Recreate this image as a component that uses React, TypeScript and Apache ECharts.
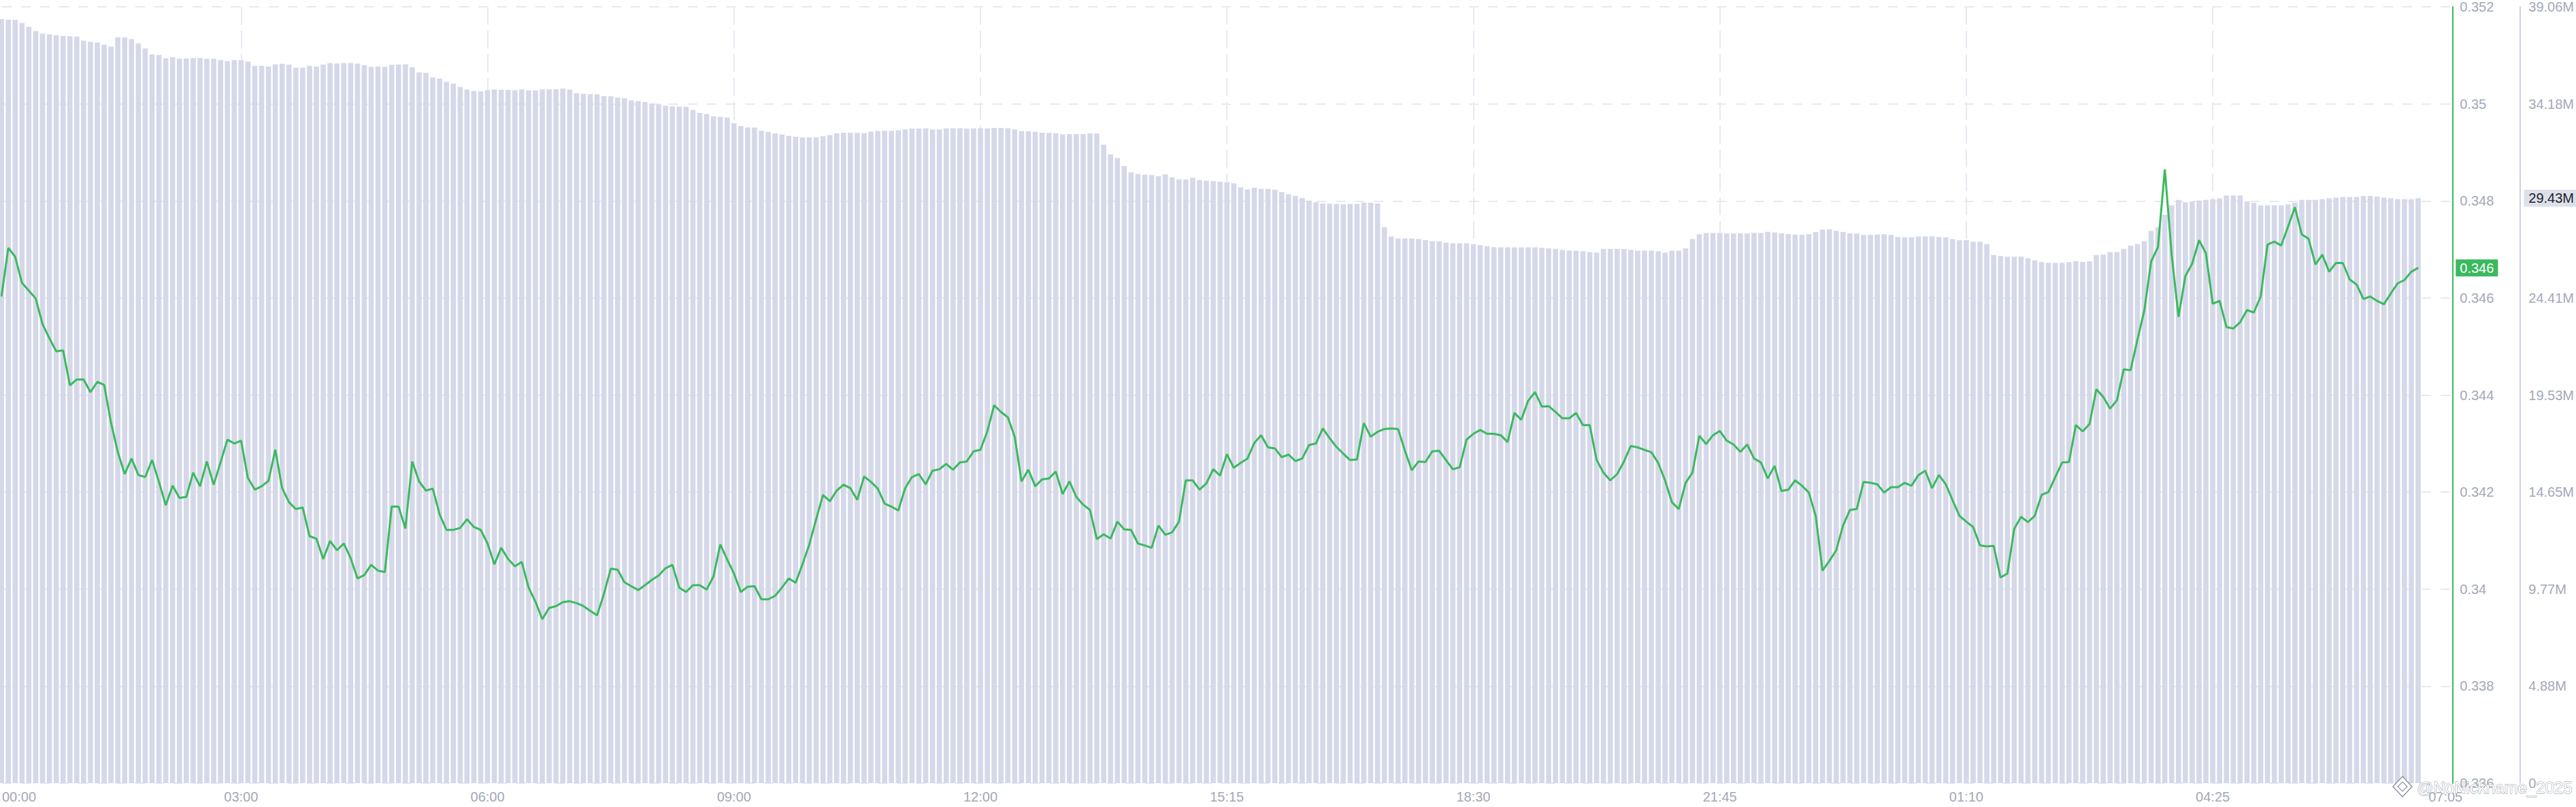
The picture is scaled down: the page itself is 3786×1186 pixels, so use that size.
import { useEffect, useRef } from 'react';
import * as echarts from 'echarts';

// ---------- data ----------
// x-axis time labels (one every 36 five-minute slots; first and last sit at the axis ends)
const timeLabels = ['00:00', '03:00', '06:00', '09:00', '12:00', '15:15', '18:30', '21:45', '01:10', '04:25', '07:05'];
const SLOTS_PER_LABEL = 36;

// price (green line)
const prices = [
  0.34603, 0.34703, 0.34685, 0.34631, 0.34615, 0.34599, 0.34546, 0.34517, 0.3449, 0.34492,
  0.3442, 0.34432, 0.34432, 0.34406, 0.34427, 0.34421, 0.34343, 0.34282, 0.34237, 0.34269,
  0.34235, 0.34231, 0.34266, 0.34221, 0.34173, 0.34213, 0.34188, 0.3419, 0.3424, 0.34212,
  0.34263, 0.34215, 0.34261, 0.34308, 0.343, 0.34306, 0.34229, 0.34205, 0.34212, 0.34223,
  0.34287, 0.34208, 0.34179, 0.34165, 0.34168, 0.34109, 0.34104, 0.34062, 0.34099, 0.3408,
  0.34094, 0.34064, 0.34022, 0.34029, 0.3405, 0.34038, 0.34035, 0.3417, 0.3417, 0.34125,
  0.34263, 0.34222, 0.34203, 0.34207, 0.34154, 0.34122, 0.34122, 0.34126, 0.34144, 0.34128,
  0.34122, 0.34094, 0.34051, 0.34085, 0.34062, 0.34047, 0.34056, 0.34003, 0.33974, 0.33938,
  0.33961, 0.33965, 0.33973, 0.33975, 0.33971, 0.33965, 0.33955, 0.33946, 0.3399, 0.34042,
  0.3404, 0.34014, 0.34006, 0.33998, 0.34008, 0.34019, 0.34028, 0.34043, 0.3405, 0.34003,
  0.33994, 0.34008, 0.34008, 0.33999, 0.34026, 0.34092, 0.34061, 0.34032, 0.33994, 0.34005,
  0.34006, 0.33979, 0.33979, 0.33986, 0.34003, 0.34022, 0.34013, 0.34051, 0.34092, 0.34144,
  0.34194, 0.34181, 0.34203, 0.34215, 0.34208, 0.34184, 0.34232, 0.34221, 0.34207, 0.34176,
  0.3417, 0.34162, 0.34208, 0.34231, 0.34237, 0.34216, 0.34244, 0.34247, 0.34258, 0.34246,
  0.34261, 0.34263, 0.34284, 0.34287, 0.34325, 0.34379, 0.34365, 0.34354, 0.34314, 0.34222,
  0.34246, 0.34212, 0.34226, 0.34228, 0.34242, 0.34196, 0.34222, 0.3419, 0.34174, 0.34163,
  0.34103, 0.34113, 0.34104, 0.34139, 0.34123, 0.34122, 0.34094, 0.3409, 0.34085, 0.34131,
  0.34112, 0.34117, 0.34139, 0.34224, 0.34224, 0.34205, 0.34218, 0.34247, 0.34234, 0.34278,
  0.3425, 0.3426, 0.34269, 0.34301, 0.34317, 0.34292, 0.3429, 0.34272, 0.34277, 0.34264,
  0.34269, 0.34297, 0.343, 0.34331, 0.34311, 0.34293, 0.34279, 0.34266, 0.34267, 0.34342,
  0.34314, 0.34324, 0.3433, 0.34331, 0.3433, 0.34285, 0.34245, 0.34263, 0.34262, 0.34284,
  0.34285, 0.34266, 0.34247, 0.34251, 0.34308, 0.3432, 0.34328, 0.3432, 0.3432, 0.34317,
  0.34303, 0.34363, 0.34349, 0.34388, 0.34406, 0.34376, 0.34377, 0.34365, 0.34352, 0.34352,
  0.34363, 0.34338, 0.34338, 0.34266, 0.3424, 0.34224, 0.34237, 0.34263, 0.34295, 0.34292,
  0.34287, 0.34282, 0.3426, 0.34224, 0.34179, 0.34165, 0.34219, 0.3424, 0.34316, 0.34299,
  0.34317, 0.34326, 0.34306, 0.34298, 0.34283, 0.34298, 0.34269, 0.34261, 0.34228, 0.34254,
  0.34202, 0.34205, 0.34224, 0.34213, 0.34199, 0.34151, 0.34038, 0.34058, 0.3408, 0.34131,
  0.34163, 0.34165, 0.34221, 0.34219, 0.34216, 0.34199, 0.3421, 0.3421, 0.34219, 0.34213,
  0.34235, 0.34244, 0.34208, 0.34235, 0.34216, 0.34183, 0.34151, 0.34139, 0.34128, 0.3409,
  0.34088, 0.34089, 0.34024, 0.34032, 0.34124, 0.34149, 0.34138, 0.34151, 0.34194, 0.342,
  0.34231, 0.34261, 0.34262, 0.34338, 0.34325, 0.3434, 0.34412, 0.34396, 0.34372, 0.34389,
  0.34453, 0.34451, 0.34514, 0.34574, 0.34675, 0.34705, 0.34865, 0.34689, 0.34561, 0.34645,
  0.34671, 0.34719, 0.34692, 0.34588, 0.34594, 0.3454, 0.34537, 0.3455, 0.34575, 0.3457,
  0.34603, 0.3471, 0.34716, 0.34708, 0.34747, 0.34787, 0.34731, 0.34722, 0.34669, 0.34689,
  0.34654, 0.34672, 0.34672, 0.34638, 0.34628, 0.34598, 0.34603, 0.34594, 0.34587, 0.34609,
  0.3463, 0.34637, 0.34654, 0.34662,
];

// volume in millions (bars)
const volumesM = [
  38.44, 38.41, 38.4, 38.25, 38.05, 37.84, 37.71, 37.67, 37.63, 37.6,
  37.58, 37.56, 37.36, 37.3, 37.26, 37.15, 37.06, 37.53, 37.52, 37.43,
  37.22, 36.96, 36.66, 36.64, 36.47, 36.53, 36.45, 36.46, 36.48, 36.48,
  36.44, 36.44, 36.38, 36.33, 36.38, 36.37, 36.3, 36.09, 36.09, 36.06,
  36.17, 36.19, 36.15, 36.0, 36.0, 36.09, 36.06, 36.15, 36.23, 36.21,
  36.23, 36.23, 36.2, 36.12, 36.04, 36.06, 36.04, 36.14, 36.15, 36.17,
  36.02, 35.76, 35.74, 35.51, 35.45, 35.29, 35.2, 35.03, 34.9, 34.82,
  34.81, 34.87, 34.9, 34.88, 34.88, 34.87, 34.9, 34.86, 34.85, 34.9,
  34.91, 34.91, 34.94, 34.89, 34.71, 34.69, 34.66, 34.66, 34.57, 34.56,
  34.49, 34.46, 34.35, 34.32, 34.27, 34.2, 34.15, 34.08, 34.05, 34.04,
  34.03, 33.87, 33.72, 33.67, 33.55, 33.52, 33.49, 33.21, 33.06, 32.99,
  32.98, 32.83, 32.77, 32.69, 32.63, 32.56, 32.52, 32.49, 32.49, 32.49,
  32.55, 32.61, 32.69, 32.73, 32.72, 32.72, 32.71, 32.78, 32.81, 32.82,
  32.82, 32.85, 32.89, 32.93, 32.93, 32.94, 32.89, 32.89, 32.94, 32.95,
  32.95, 32.93, 32.94, 32.95, 32.94, 32.97, 32.97, 32.95, 32.89, 32.8,
  32.8, 32.77, 32.73, 32.72, 32.69, 32.64, 32.66, 32.66, 32.66, 32.69,
  32.68, 32.13, 31.63, 31.45, 31.05, 30.73, 30.65, 30.61, 30.6, 30.54,
  30.63, 30.48, 30.38, 30.37, 30.46, 30.35, 30.31, 30.29, 30.26, 30.23,
  30.18, 29.98, 29.87, 29.95, 29.9, 29.89, 29.86, 29.74, 29.63, 29.54,
  29.43, 29.31, 29.23, 29.17, 29.15, 29.14, 29.12, 29.14, 29.15, 29.21,
  29.2, 29.17, 27.98, 27.51, 27.4, 27.4, 27.4, 27.38, 27.32, 27.27,
  27.26, 27.19, 27.16, 27.16, 27.16, 27.12, 27.07, 27.01, 26.97, 26.96,
  26.96, 26.96, 26.96, 26.96, 26.96, 26.93, 26.91, 26.88, 26.83, 26.8,
  26.79, 26.76, 26.72, 26.69, 26.88, 26.88, 26.88, 26.87, 26.83, 26.8,
  26.8, 26.8, 26.76, 26.69, 26.79, 26.79, 26.91, 27.38, 27.62, 27.68,
  27.68, 27.68, 27.66, 27.66, 27.66, 27.66, 27.69, 27.69, 27.74, 27.71,
  27.66, 27.63, 27.6, 27.59, 27.62, 27.73, 27.85, 27.87, 27.79, 27.74,
  27.66, 27.65, 27.58, 27.58, 27.6, 27.62, 27.58, 27.48, 27.46, 27.46,
  27.51, 27.51, 27.51, 27.48, 27.46, 27.38, 27.32, 27.32, 27.24, 27.24,
  27.12, 26.57, 26.52, 26.49, 26.49, 26.49, 26.41, 26.3, 26.21, 26.18,
  26.18, 26.18, 26.21, 26.26, 26.22, 26.26, 26.57, 26.6, 26.72, 26.72,
  26.88, 27.04, 27.12, 27.27, 27.79, 27.98, 28.6, 29.07, 29.35, 29.23,
  29.27, 29.31, 29.35, 29.38, 29.42, 29.57, 29.57, 29.57, 29.27, 29.2,
  29.07, 29.07, 29.07, 29.07, 29.12, 29.2, 29.35, 29.35, 29.35, 29.38,
  29.42, 29.46, 29.49, 29.49, 29.49, 29.54, 29.54, 29.51, 29.46, 29.42,
  29.38, 29.38, 29.38, 29.43,
];

// axis ranges
const PRICE_MIN = 0.336;
const PRICE_MAX = 0.352;
const PRICE_STEP = 0.002;
const VOLUME_MAX_M = 39.06;
const VOLUME_SPLITS = 8;

// ---------- styling ----------
const FONT = "'Liberation Sans', Arial, Helvetica, sans-serif";
const GREEN = '#3bb95e';
const BAR = '#d4d8e9';
const LABEL = '#a3a8b9';
const GRID = '#e7e9f1';

// five-minute slot index of each bar (slot 0 is the 00:00 label)
const X_MIN = 1.085;
const X_MAX = 359;
const LAST_LABEL_SLOT = 358;
const X_LABEL_MARGIN = 10;

function buildOption() {
  const n = prices.length;
  const lastPrice = prices[n - 1];
  const lastVol = volumesM[volumesM.length - 1] * 1e6;
  const volMax = VOLUME_MAX_M * 1e6;

  const gridSlots: number[] = [];
  for (let j = 1; j < timeLabels.length - 1; j++) gridSlots.push(j * SLOTS_PER_LABEL);
  const labelSlots = [X_MIN, ...gridSlots];
  const labelFor = (v: number) => {
    const idx = labelSlots.findIndex((s) => Math.abs(s - v) < 0.01);
    return idx >= 0 ? timeLabels[idx] : '';
  };

  return {
    animation: false,
    backgroundColor: '#ffffff',
    grid: { left: 0, right: 157, top: 5, bottom: 35, containLabel: false },
    xAxis: {
      type: 'value',
      min: X_MIN,
      max: X_MAX,
      axisLine: { show: false },
      axisTick: { show: false, customValues: gridSlots },
      splitLine: { show: true, lineStyle: { color: GRID, width: 2, type: [26, 9] } },
      axisLabel: {
        customValues: labelSlots,
        formatter: (v: number) => labelFor(v),
        color: LABEL,
        fontSize: 20,
        fontFamily: FONT,
        margin: X_LABEL_MARGIN,
        alignMinLabel: 'left',
        showMinLabel: true,
      },
    },
    yAxis: [
      {
        type: 'value',
        position: 'right',
        min: PRICE_MIN,
        max: PRICE_MAX,
        interval: PRICE_STEP,
        axisLine: { show: true, onZero: false, lineStyle: { color: GREEN, width: 2 } },
        axisTick: { show: false },
        axisLabel: { color: LABEL, fontSize: 20, fontFamily: FONT, margin: 11 },
        splitLine: { show: true, lineStyle: { color: GRID, width: 2, type: [14, 14] } },
      },
      {
        type: 'value',
        position: 'right',
        offset: 99,
        min: 0,
        max: volMax,
        interval: volMax / VOLUME_SPLITS,
        axisLine: { show: true, onZero: false, lineStyle: { color: '#cfd3e0', width: 2 } },
        axisTick: { show: false },
        splitLine: { show: false },
        axisLabel: {
          color: LABEL,
          fontSize: 20,
          fontFamily: FONT,
          margin: 13,
          formatter: (v: number) => {
            if (v === 0) return '0';
            if (Math.abs(v - lastVol) < 1.2e6) return '';
            return (v / 1e6).toFixed(2) + 'M';
          },
        },
      },
    ],
    series: [
      {
        type: 'bar',
        yAxisIndex: 1,
        barWidth: 7.6,
        itemStyle: { color: BAR },
        data: volumesM.map((v, i) => [i + 1, v * 1e6]),
        z: 1,
        markLine: {
          silent: true,
          precision: 0,
          symbol: ['none', 'none'],
          lineStyle: { color: 'rgba(0,0,0,0)', width: 0 },
          label: {
            show: true,
            position: 'end',
            distance: 105,
            formatter: () => (lastVol / 1e6).toFixed(2) + 'M',
            backgroundColor: '#dde0ea',
            color: '#1c1f2b',
            fontSize: 20,
            fontFamily: FONT,
            padding: [3, 7, 2, 7],
          },
          data: [{ yAxis: lastVol }],
        },
      },
      {
        type: 'line',
        yAxisIndex: 0,
        showSymbol: false,
        symbol: 'none',
        lineStyle: { color: GREEN, width: 3 },
        data: prices.map((p, i) => [i + 1, p]),
        z: 3,
        markLine: {
          silent: true,
          precision: 6,
          symbol: ['none', 'none'],
          lineStyle: { color: 'rgba(0,0,0,0)', width: 0 },
          label: {
            show: true,
            position: 'end',
            distance: 5,
            formatter: () => (Math.floor(lastPrice * 1000) / 1000).toFixed(3),
            backgroundColor: GREEN,
            color: '#ffffff',
            fontSize: 20,
            fontFamily: FONT,
            padding: [3, 6, 2, 6],
          },
          data: [{ yAxis: lastPrice }],
        },
      },
    ],
  };
}

function buildGraphic(chart: echarts.ECharts) {
  // last time label sits past the axis end; place it through the axis scale
  const lastX = chart.convertToPixel({ xAxisIndex: 0 }, LAST_LABEL_SLOT) as number;
  const axisBottom = chart.convertToPixel({ yAxisIndex: 0 }, PRICE_MIN) as number;
  return [
    {
      id: 'lastTime',
      type: 'text',
      z: 50,
      x: lastX,
      y: axisBottom + X_LABEL_MARGIN,
      style: {
        text: timeLabels[timeLabels.length - 1],
        fill: LABEL,
        fontSize: 20,
        fontFamily: FONT,
        align: 'center',
        verticalAlign: 'top',
      },
    },
    {
      id: 'wmOuter',
      type: 'polygon',
      z: 100,
      shape: { points: [[3531, 1141], [3545, 1156], [3531, 1171], [3517, 1156]] },
      style: { fill: '#ffffff', stroke: '#8d93a3', lineWidth: 1.5 },
    },
    {
      id: 'wmInner',
      type: 'polygon',
      z: 101,
      shape: { points: [[3531, 1149], [3538, 1156], [3531, 1163], [3524, 1156]] },
      style: { fill: '#ffffff', stroke: '#8d93a3', lineWidth: 1.2 },
    },
    {
      id: 'wmText',
      type: 'text',
      z: 100,
      x: 3552,
      y: 1157,
      style: {
        text: '@NoNickname_2025',
        fill: '#ffffff',
        stroke: '#8d93a3',
        lineWidth: 1,
        fontSize: 24,
        fontFamily: FONT,
        verticalAlign: 'middle',
      },
    },
  ];
}

export default function App() {
  const ref = useRef<HTMLDivElement>(null);
  useEffect(() => {
    if (!ref.current) return;
    const chart = echarts.init(ref.current, null, { renderer: 'svg' });
    chart.setOption(buildOption() as any);
    chart.setOption({ graphic: buildGraphic(chart) } as any);
    return () => chart.dispose();
  }, []);
  return (
    <div
      ref={ref}
      style={{ position: 'absolute', left: 0, top: 0, width: 3786, height: 1186, background: '#ffffff' }}
    />
  );
}
